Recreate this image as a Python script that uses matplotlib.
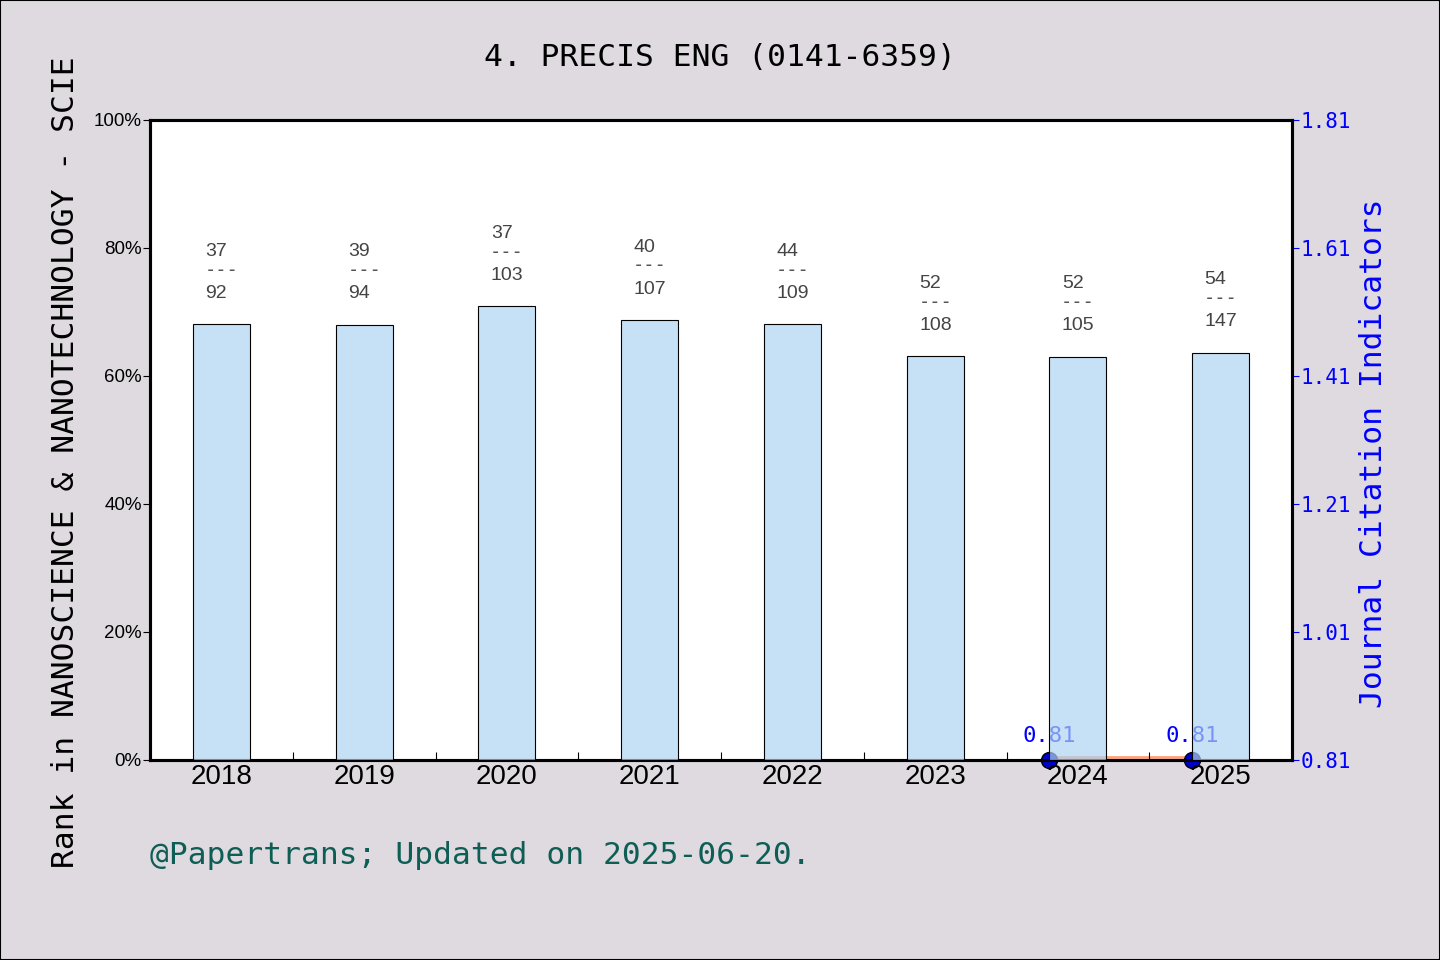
import matplotlib
matplotlib.use("Agg")
import matplotlib.pyplot as plt
from matplotlib.patches import Rectangle
from matplotlib.ticker import FixedLocator
from matplotlib.transforms import offset_copy

years = ["2018", "2019", "2020", "2021", "2022", "2023", "2024", "2025"]
rank_pct = [68.1, 68.0, 70.9, 68.75, 68.1, 63.1, 63.0, 63.6]
rank_num = [37, 39, 37, 40, 44, 52, 52, 54]
rank_total = [92, 94, 103, 107, 109, 108, 105, 147]
jci_years_idx = [6, 7]
jci_values = [0.81, 0.81]
jci_ticks = [0.81, 1.01, 1.21, 1.41, 1.61, 1.81]
pct_ticks = [0, 20, 40, 60, 80, 100]

title = "4. PRECIS ENG (0141-6359)"
left_label = "Rank in NANOSCIENCE & NANOTECHNOLOGY - SCIE"
right_label = "Journal Citation Indicators"
footnote = "@Papertrans; Updated on 2025-06-20."

bg = "#dedae0"
mono = "DejaVu Sans Mono"
sans = "Liberation Sans"

fig = plt.figure(figsize=(14.4, 9.6), dpi=100, facecolor=bg)
fig.patches.append(Rectangle((0, 0), 1, 1, transform=fig.transFigure,
                             fill=False, edgecolor="black", lw=1.5))

rect = [150/1440, 1-760/960, (1292-150)/1440, (760-120)/960]
ax1 = fig.add_axes(rect)
ax2 = ax1.twinx()
ax1.set_zorder(2)
ax2.set_zorder(1)
ax1.patch.set_visible(False)
ax2.patch.set_visible(True)
ax2.patch.set_facecolor("white")

x = list(range(len(years)))
bw = 0.4
ax1.bar(x, rank_pct, width=bw, facecolor=(174/255, 211/255, 242/255, 0.7),
        edgecolor="black", linewidth=0.8, zorder=3)
px = 0.72  # points per pixel
for i in x:
    xy = (i - bw/2, rank_pct[i])
    ax1.annotate(f"{rank_total[i]}", xy=xy, xytext=(9, 31*px),
                 textcoords="offset points", ha="left", va="center",
                 fontsize=14, color="#444444", family=sans)
    ax1.annotate("---", xy=xy, xytext=(8.5, 54*px),
                 textcoords="offset points", ha="left", va="center",
                 fontsize=13.5, color="#555555", family=mono)
    ax1.annotate(f"{rank_num[i]}", xy=xy, xytext=(9, 73*px),
                 textcoords="offset points", ha="left", va="center",
                 fontsize=14, color="#444444", family=sans)

ax1.set_xlim(-0.5, len(years) - 0.5)
ax1.set_ylim(0, 100)
ax1.set_yticks(pct_ticks)
ax1.set_yticklabels([f"{t}%" for t in pct_ticks], family=sans, fontsize=13.5)
ax1.tick_params(axis="y", length=5, width=0.8, direction="out", pad=1)
ax1.set_xticks(x)
ax1.set_xticklabels(years, family=sans, fontsize=20)
ax1.tick_params(axis="x", which="major", length=0, pad=3)
ax1.xaxis.set_minor_locator(FixedLocator([i + 0.5 for i in x[:-1]]))
ax1.tick_params(axis="x", which="minor", direction="in", length=6, width=0.8)
for s in ax1.spines.values():
    s.set_linewidth(2.2)
for s in ax2.spines.values():
    s.set_linewidth(2.2)

lx = [i - bw/2 for i in jci_years_idx]
line_tr = offset_copy(ax2.transData, fig=fig, x=0, y=2.6, units="dots")
ax2.plot(lx, jci_values, color="#ffa07a", lw=2.0, zorder=2, clip_on=False,
         transform=line_tr, solid_capstyle="butt")
ax2.plot(lx, jci_values, linestyle="none", marker="o", markersize=11.5,
         markerfacecolor="#0000cc", markeredgecolor="black", markeredgewidth=1,
         zorder=3, clip_on=False)
for xi, v in zip(lx, jci_values):
    ax2.annotate(f"{v:.2f}", xy=(xi, v), xytext=(0, 17), textcoords="offset points",
                 ha="center", va="center", fontsize=16, color="blue", family=mono)

ax2.set_ylim(jci_ticks[0], jci_ticks[-1])
ax2.set_yticks(jci_ticks)
ax2.set_yticklabels([f"{t:.2f}" for t in jci_ticks], family=mono, fontsize=15, color="blue")
ax2.tick_params(axis="y", colors="blue", length=5, width=0.8, pad=1)

fig.text(720/1440, 1-58/960, title, ha="center", va="center", family=mono, fontsize=22.5)
fig.text(66/1440, 1-462/960, left_label, rotation=90, ha="center", va="center",
         family=mono, fontsize=22.5)
fig.text(1373/1440, 1-453/960, right_label, rotation=90, ha="center", va="center",
         family=mono, fontsize=22.5, color="blue")
fig.text(150/1440, 1-855/960, footnote, ha="left", va="center", family=mono,
         fontsize=22.5, color="#0f5e55")

fig.savefig("out.png", dpi=100, facecolor=bg)
